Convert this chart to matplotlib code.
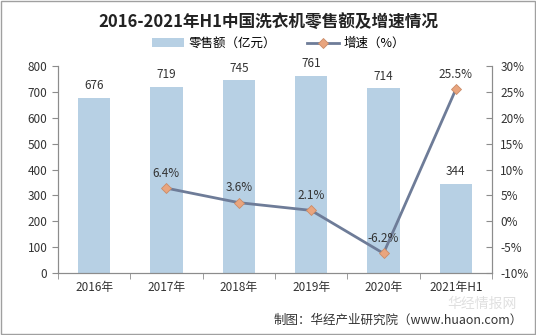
import numpy as np
import matplotlib.pyplot as plt
from matplotlib.patches import Rectangle

plt.rcParams['font.family'] = ['Noto Sans CJK SC', 'DejaVu Sans']

# data
years = ['2016年', '2017年', '2018年', '2019年', '2020年', '2021年H1']
sales = [676, 719, 745, 761, 714, 344]
growth_years = [1, 2, 3, 4, 5]
growth = [6.4, 3.6, 2.1, -6.2, 25.5]

bar_color = '#B7D0E4'
line_color = '#6E7C98'
marker_color = '#E9A57E'
axis_color = '#8C8C8C'

fig = plt.figure(figsize=(5.36, 3.35), dpi=100)
fig.patches.append(Rectangle((0.002, 0.004), 0.996, 0.992, transform=fig.transFigure,
                             fill=False, edgecolor='#A0A0A0', linewidth=1.0))

ax = fig.add_axes([0.108, 0.185, 0.810, 0.618])
x = np.arange(len(years))
bars = ax.bar(x, sales, width=0.45, color=bar_color, label='零售额（亿元）', zorder=2)
ax.set_ylim(0, 800)
ax.set_xlim(-0.5, len(years) - 0.5)
ax.set_yticks(range(0, 801, 100))
ax.set_xticks(x)
ax.set_xticklabels(years)
ax.set_xticks(np.arange(-0.5, len(years), 1), minor=True)
ax.tick_params(axis='x', which='major', length=0, labelsize=8.5, pad=6, colors='#333333')
ax.tick_params(axis='x', which='minor', length=4, color=axis_color, direction='out')
ax.tick_params(axis='y', labelsize=8.5, length=4, color=axis_color, labelcolor='#333333')
ax.spines['top'].set_visible(False)
for s in ['left', 'bottom', 'right']:
    ax.spines[s].set_color(axis_color)

for xi, v in zip(x, sales):
    ax.text(xi, v + 22, str(v), ha='center', va='bottom', fontsize=8.5, color='#333333')

ax2 = ax.twinx()
line, = ax2.plot(growth_years, growth, color=line_color, linewidth=2.0, marker='D',
                 markersize=5, markerfacecolor=marker_color, markeredgecolor='#C98B68',
                 markeredgewidth=0.6, label='增速（%）', zorder=3)
ax2.set_ylim(-10, 30)
ax2.set_yticks(range(-10, 31, 5))
ax2.set_yticklabels([f'{v}%' for v in range(-10, 31, 5)])
ax2.tick_params(axis='y', labelsize=8.5, length=4, color=axis_color, direction='in',
                labelcolor='#333333', pad=6)
ax2.spines['top'].set_visible(False)
for s in ['left', 'bottom', 'right']:
    ax2.spines[s].set_color(axis_color)

for xi, v in zip(growth_years, growth):
    ax2.text(xi, v + 1.6, f'{v}%', ha='center', va='bottom', fontsize=8.5, color='#333333')

fig.text(0.5, 0.935, '2016-2021年H1中国洗衣机零售额及增速情况', ha='center', va='center',
         fontsize=12, fontweight='bold', color='#222222')
fig.legend(handles=[bars, line], loc='center', bbox_to_anchor=(0.52, 0.87), ncol=2,
           frameon=False, fontsize=9, handlelength=2.5, columnspacing=2.5,
           handletextpad=0.4)

fig.text(0.9, 0.093, '华经情报网', ha='center', va='center', fontsize=10,
         color='#D8D8D8', alpha=0.8)
fig.text(0.975, 0.045, '制图：华经产业研究院（www.huaon.com）', ha='right', va='center',
         fontsize=9, color='#333333')

fig.savefig('out.png', dpi=100)
